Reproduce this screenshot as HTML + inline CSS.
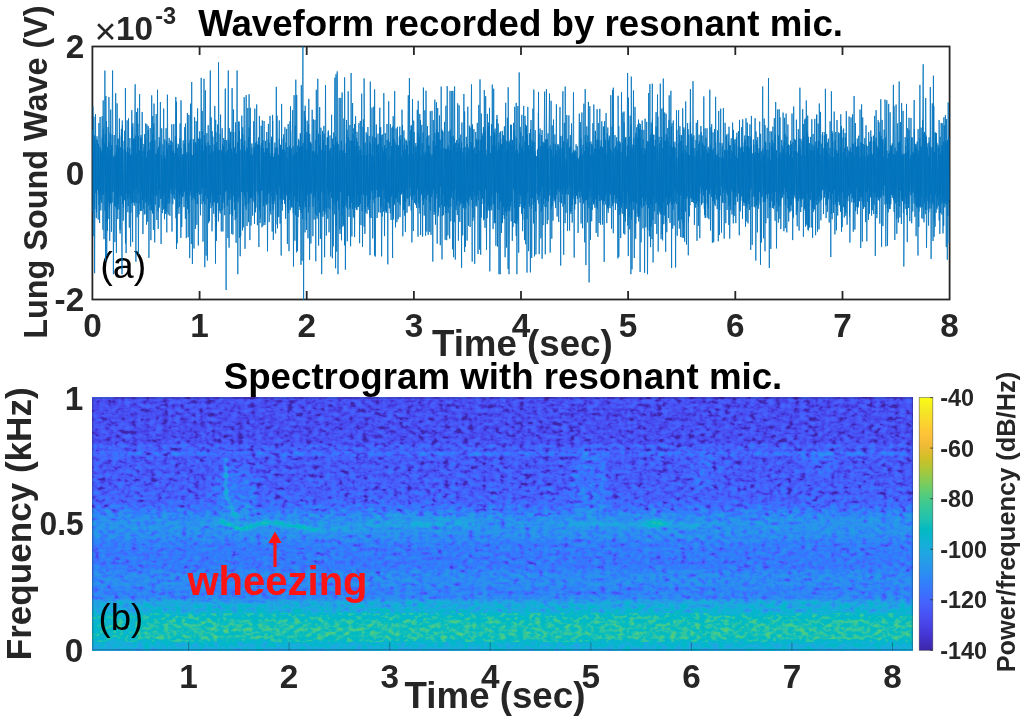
<!DOCTYPE html>
<html><head><meta charset="utf-8"><title>Lung sound waveform and spectrogram</title>
<style>html,body{margin:0;padding:0;background:#fff}svg{display:block}text{font-family:"Liberation Sans",Arial,Helvetica,sans-serif;font-weight:bold;fill:#262626}.k{fill:#000}.r{font-weight:normal;fill:#000}</style></head><body>
<svg width="1025" height="724" viewBox="0 0 1025 724">
<rect width="1025" height="724" fill="#fff"/>
<text class="r" x="100.3" y="278.3" font-size="37.5">(a)</text>
<g stroke="#262626" stroke-width="1.8" fill="none"><rect x="92.4" y="46.5" width="857.2" height="253.0"/><path d="M199.6,299.5v-8.6M199.6,46.5v8.6M306.7,299.5v-8.6M306.7,46.5v8.6M413.9,299.5v-8.6M413.9,46.5v8.6M521.0,299.5v-8.6M521.0,46.5v8.6M628.1,299.5v-8.6M628.1,46.5v8.6M735.3,299.5v-8.6M735.3,46.5v8.6M842.5,299.5v-8.6M842.5,46.5v8.6"/></g>
<path d="M92.8,129.9 93.2,212.2 93.4,149.0 93.8,203.2 94.4,135.6 94.8,209.2 95.2,143.5 95.6,192.9 96.2,139.2 96.6,212.0 97.0,136.3 97.5,190.0 98.3,154.6 98.8,193.8 98.6,143.9 99.1,205.2 100.1,147.2 100.6,196.0 100.4,148.4 100.9,200.4 101.4,151.3 101.8,203.0 102.3,137.5 102.8,194.9 103.3,128.7 103.7,194.4 104.6,143.1 105.0,210.6 105.4,134.1 105.9,192.2 106.4,121.3 106.9,222.3 107.0,154.3 107.4,230.9 107.6,146.9 108.1,202.3 108.9,142.1 109.4,207.0 110.0,132.8 110.4,203.7 110.4,150.1 110.8,202.3 111.7,145.0 112.2,202.5 112.1,134.7 112.6,191.9 113.5,157.3 113.9,191.6 114.2,155.7 114.7,205.5 115.4,154.8 115.8,207.1 116.3,151.9 116.7,198.1 116.7,145.2 117.1,210.0 117.8,139.4 118.3,203.9 118.6,147.9 119.0,196.6 119.6,134.1 120.0,229.7 120.3,147.2 120.7,195.3 121.4,128.9 121.8,196.2 122.3,120.5 122.7,204.0 122.9,149.5 123.4,207.9 124.1,140.9 124.6,200.3 125.3,149.1 125.7,206.4 125.7,151.0 126.1,194.0 127.1,152.3 127.6,199.2 127.7,147.3 128.2,206.1 128.5,152.6 128.9,194.4 129.8,148.2 130.3,199.0 130.4,155.0 130.9,212.7 131.3,154.0 131.8,203.4 132.2,126.5 132.6,201.5 133.4,138.7 133.8,190.3 133.8,142.1 134.3,205.7 134.8,138.3 135.2,202.4 135.7,135.6 136.2,188.8 136.5,153.4 136.9,202.9 137.9,123.8 138.3,193.8 138.5,135.9 139.0,214.4 139.5,150.7 140.0,203.6 140.6,137.5 141.0,210.0 141.2,138.7 141.7,192.2 142.0,156.8 142.5,199.8 143.1,150.8 143.5,208.6 143.9,143.9 144.4,214.5 144.7,134.1 145.2,202.8 145.6,139.2 146.0,214.1 146.6,157.7 147.0,201.2 147.7,151.6 148.1,195.9 148.2,130.0 148.7,205.5 149.7,149.7 150.1,210.3 150.1,142.3 150.5,204.0 151.0,150.0 151.5,210.3 151.8,140.2 152.3,193.0 152.9,134.1 153.3,213.8 153.8,123.5 154.2,195.4 154.9,140.3 155.3,204.6 155.9,153.5 156.4,195.7 156.4,154.4 156.8,194.7 157.7,149.4 158.1,211.4 158.2,150.8 158.7,195.0 159.2,137.2 159.6,189.8 159.9,142.1 160.4,199.0 161.3,154.7 161.8,197.3 161.9,158.3 162.3,204.6 163.0,144.4 163.4,209.4 163.5,151.6 163.9,195.1 164.8,155.9 165.2,193.3 165.4,159.3 165.8,208.1 166.4,140.8 166.9,212.1 167.5,149.1 167.9,203.7 168.1,143.3 168.5,197.5 169.2,145.1 169.6,203.3 170.3,145.0 170.7,188.8 170.7,140.5 171.2,193.8 171.8,124.4 172.3,190.6 172.6,151.6 173.0,197.9 173.4,150.1 173.9,194.6 174.6,153.4 175.0,189.3 175.4,136.3 175.9,218.2 176.5,139.4 176.9,198.3 177.5,148.2 177.9,208.3 178.3,156.3 178.7,193.6 179.0,145.5 179.4,206.7 180.0,138.2 180.4,194.8 181.0,148.0 181.4,203.9 182.0,156.9 182.4,196.8 182.8,154.0 183.2,196.3 183.6,154.9 184.0,190.9 184.2,143.8 184.7,191.9 185.6,139.8 186.1,201.7 186.1,153.9 186.6,196.3 187.1,151.8 187.6,209.1 188.3,153.3 188.8,213.4 188.8,143.0 189.2,195.9 190.1,140.1 190.6,191.2 190.6,138.6 191.1,195.3 191.4,153.7 191.9,200.3 192.6,155.1 193.0,197.9 193.7,142.1 194.1,195.8 194.3,153.7 194.8,199.3 195.5,142.3 195.9,204.1 196.1,143.9 196.6,193.0 197.3,146.5 197.7,204.1 197.7,137.5 198.2,191.6 198.7,138.9 199.2,194.4 199.5,138.8 200.0,194.6 200.8,138.6 201.3,193.7 201.6,145.1 202.0,188.2 202.6,131.5 203.0,187.9 203.2,150.9 203.7,201.3 204.4,135.2 204.9,204.4 205.5,143.2 205.9,196.3 205.8,147.6 206.3,189.5 206.9,133.1 207.3,198.8 208.1,142.0 208.6,223.2 209.0,145.5 209.5,221.2 209.9,145.1 210.4,202.9 210.4,153.3 210.9,195.6 211.5,150.3 212.0,193.0 212.1,131.1 212.6,205.6 213.2,151.3 213.7,202.2 214.2,144.4 214.7,202.4 214.9,147.3 215.4,217.2 215.9,132.4 216.4,240.9 216.8,142.2 217.2,202.6 217.5,147.5 218.0,203.2 218.4,149.8 218.9,194.4 219.8,149.9 220.2,213.3 220.2,134.0 220.6,194.9 221.7,150.5 222.1,210.1 222.5,143.9 223.0,202.8 223.5,146.3 223.9,198.7 224.3,151.0 224.7,215.2 224.7,140.0 225.1,191.7 225.6,153.3 226.1,191.2 226.7,152.0 227.1,190.5 227.5,149.9 227.9,238.1 228.3,139.4 228.8,200.1 229.8,143.2 230.2,199.4 230.6,132.4 231.1,193.9 231.5,148.8 231.9,212.3 232.0,152.5 232.5,216.0 233.3,132.0 233.8,195.9 234.2,148.5 234.6,209.9 234.8,147.4 235.2,220.1 235.6,122.4 236.0,217.8 236.5,153.5 236.9,199.7 237.5,142.4 238.0,202.3 238.7,136.6 239.2,197.2 239.1,121.6 239.6,195.7 240.2,149.7 240.7,236.2 241.1,138.8 241.6,191.8 242.3,143.4 242.8,193.6 242.8,134.1 243.2,191.8 244.0,145.7 244.4,196.5 244.7,140.8 245.1,205.6 245.8,150.7 246.2,209.5 246.8,147.4 247.3,192.2 247.7,148.8 248.2,204.3 248.6,137.0 249.1,202.5 249.2,127.5 249.6,197.6 250.1,153.1 250.5,197.7 250.9,155.0 251.3,197.5 251.8,147.5 252.3,199.0 252.7,154.6 253.1,201.5 254.0,149.1 254.4,195.6 254.4,146.9 254.9,203.9 255.4,142.8 255.9,207.5 256.7,141.3 257.1,191.5 257.6,144.7 258.0,193.3 258.6,137.5 259.1,196.2 259.1,143.4 259.6,210.4 259.8,145.4 260.3,218.4 261.2,125.8 261.6,190.8 261.8,143.0 262.2,190.0 263.0,140.2 263.4,206.2 263.4,148.5 263.9,197.6 264.3,152.4 264.8,222.3 265.6,148.1 266.0,202.8 266.5,149.1 267.0,196.0 267.3,148.1 267.8,203.6 268.2,139.4 268.7,193.7 269.2,142.7 269.6,190.9 269.8,153.2 270.2,211.2 270.6,156.2 271.1,196.4 271.7,136.7 272.2,203.4 272.7,120.9 273.2,209.6 273.5,156.8 273.9,204.1 274.3,153.5 274.8,200.9 275.4,147.8 275.8,191.5 276.3,152.4 276.7,194.8 277.1,147.5 277.5,228.4 278.4,154.7 278.8,216.9 279.3,138.7 279.7,187.2 279.6,144.1 280.1,199.4 280.8,149.0 281.3,198.3 281.5,137.5 282.0,204.4 282.5,149.7 283.0,193.6 283.2,138.7 283.7,199.8 284.1,149.4 284.6,199.2 285.0,151.5 285.5,208.0 286.0,142.7 286.4,195.3 287.2,157.9 287.7,209.6 287.8,147.2 288.2,213.1 289.2,149.9 289.6,199.7 290.0,121.2 290.5,194.3 290.6,131.0 291.0,207.6 291.7,148.5 292.2,207.5 292.8,154.9 293.3,213.4 293.2,146.4 293.6,200.2 294.4,153.6 294.8,196.4 295.2,125.8 295.6,215.2 296.0,152.7 296.5,202.2 296.9,152.2 297.3,202.2 297.7,145.7 298.1,217.0 298.9,140.8 299.4,202.7 299.5,147.3 300.0,210.0 300.6,134.9 301.0,212.8 301.8,146.2 302.2,189.7 302.3,146.7 302.8,219.2 303.2,142.8 303.7,208.4 304.5,134.8 304.9,201.4 305.2,105.7 305.6,206.9 306.1,131.9 306.5,230.0 306.8,149.8 307.2,195.2 307.9,132.5 308.4,212.5 308.6,124.5 309.1,207.0 309.7,133.9 310.1,193.8 310.5,141.9 310.9,191.1 311.2,143.6 311.6,193.5 312.6,151.3 313.0,206.8 313.3,150.6 313.8,198.4 314.4,154.9 314.9,195.6 314.9,151.6 315.4,213.7 315.8,140.4 316.2,191.0 316.6,129.8 317.1,218.7 317.6,154.4 318.1,200.4 318.5,133.8 319.0,211.8 319.3,144.8 319.8,212.7 320.3,135.1 320.7,216.3 321.2,149.8 321.7,192.2 322.5,132.8 322.9,216.7 323.1,140.0 323.5,193.3 324.2,133.7 324.7,214.7 324.6,151.1 325.1,208.6 325.6,145.0 326.1,212.6 327.0,145.3 327.5,189.5 327.4,137.1 327.8,218.7 328.3,132.1 328.7,194.8 329.4,151.1 329.9,209.2 330.2,148.7 330.7,191.5 331.0,148.0 331.5,197.7 332.2,157.7 332.7,210.3 333.1,143.9 333.6,203.3 333.7,132.5 334.2,214.3 334.9,145.1 335.3,205.9 335.7,136.7 336.2,225.9 336.9,142.9 337.3,199.1 337.3,141.6 337.7,201.1 338.3,144.2 338.7,209.6 339.4,153.5 339.8,229.2 339.9,150.2 340.4,191.8 341.4,140.7 341.8,215.7 342.3,150.5 342.8,207.7 342.8,151.7 343.3,225.4 344.0,149.5 344.5,206.0 344.6,144.2 345.0,205.4 345.9,153.0 346.4,202.1 346.4,142.9 346.8,207.5 347.1,129.7 347.6,209.8 348.1,137.1 348.5,196.0 349.2,147.0 349.7,208.7 349.9,140.2 350.3,207.1 351.3,141.3 351.8,203.0 352.0,140.6 352.5,209.1 352.9,133.7 353.3,197.7 353.8,128.3 354.3,218.4 354.6,124.0 355.0,208.0 355.8,146.7 356.2,205.4 356.6,138.0 357.0,210.1 357.3,141.7 357.8,195.0 358.1,154.2 358.6,206.9 358.9,145.9 359.4,205.0 359.9,150.4 360.4,203.7 360.9,149.3 361.3,195.0 361.6,155.1 362.0,210.9 363.0,126.8 363.5,194.9 363.5,140.5 363.9,191.0 364.6,155.1 365.0,208.9 365.2,142.7 365.6,212.4 366.4,155.1 366.8,195.7 367.3,134.5 367.8,207.1 367.9,127.0 368.3,209.8 369.4,153.4 369.8,217.3 369.7,141.8 370.2,199.4 370.7,144.3 371.2,191.0 371.9,155.0 372.4,192.8 372.6,136.5 373.0,199.7 373.8,156.5 374.2,203.1 374.3,141.9 374.7,189.0 375.2,137.8 375.7,197.9 376.4,137.4 376.8,189.9 377.4,145.1 377.8,197.1 378.3,144.0 378.8,196.9 378.8,153.8 379.3,196.7 379.9,127.8 380.3,212.6 380.7,127.2 381.2,207.4 381.8,135.0 382.2,216.4 382.4,147.5 382.8,190.5 383.7,151.5 384.1,187.2 384.5,145.0 384.9,198.3 385.1,148.0 385.5,210.4 386.0,148.7 386.5,211.8 387.0,124.0 387.4,201.5 388.2,139.3 388.7,202.7 388.8,159.5 389.3,208.3 389.8,142.0 390.3,213.3 390.9,156.6 391.4,196.8 391.5,146.0 391.9,193.6 392.7,139.1 393.2,214.9 393.2,116.2 393.7,204.3 394.0,138.8 394.4,204.6 394.9,141.8 395.4,199.0 396.2,144.6 396.6,197.8 396.9,144.7 397.3,202.1 398.1,146.8 398.5,192.1 398.8,145.1 399.2,202.8 399.8,126.6 400.2,205.2 400.5,139.7 400.9,194.7 401.5,156.8 402.0,193.0 402.5,125.2 402.9,192.1 403.2,150.4 403.6,210.1 404.2,144.7 404.6,209.1 405.3,149.6 405.7,201.7 406.2,141.0 406.7,189.1 406.8,141.8 407.2,198.4 407.5,145.2 407.9,198.4 408.9,154.5 409.3,205.5 409.5,140.4 410.0,187.9 410.8,130.4 411.2,210.5 411.5,125.5 412.0,200.1 412.2,153.4 412.6,197.7 413.4,139.6 413.8,194.6 414.1,132.1 414.6,194.6 415.1,146.4 415.6,204.6 416.1,152.1 416.6,207.9 416.8,146.3 417.3,189.0 418.0,133.3 418.4,200.8 418.5,141.6 419.0,207.9 419.4,137.6 419.9,213.6 420.5,120.0 420.9,195.1 421.2,156.1 421.7,193.9 422.3,143.0 422.8,200.4 423.1,132.6 423.5,204.8 424.1,153.3 424.6,198.2 425.1,157.4 425.5,188.9 425.8,151.5 426.3,199.9 426.9,137.8 427.4,195.1 427.8,135.7 428.2,192.6 428.7,145.1 429.2,195.7 429.1,146.5 429.5,201.7 430.0,153.5 430.4,210.5 431.3,156.6 431.7,197.0 432.0,154.4 432.4,193.8 433.2,140.8 433.7,189.6 433.8,146.6 434.3,211.7 434.9,132.8 435.4,213.8 435.5,145.1 436.0,198.4 436.7,129.2 437.1,194.0 437.7,132.1 438.2,216.3 438.6,132.7 439.1,198.9 439.2,139.5 439.7,207.5 440.2,139.8 440.6,186.8 441.1,149.1 441.6,204.8 441.9,129.6 442.3,216.0 442.9,132.0 443.3,195.1 444.1,148.0 444.5,206.5 444.9,148.4 445.4,203.4 445.5,149.2 445.9,213.0 446.6,149.4 447.1,205.7 447.7,148.1 448.1,212.9 448.2,145.7 448.7,207.9 449.4,149.9 449.9,199.7 450.3,129.9 450.7,206.6 451.2,136.5 451.7,197.8 451.6,149.9 452.1,192.0 453.1,135.8 453.5,199.8 454.0,145.2 454.4,222.1 454.4,138.1 454.9,189.8 455.6,142.8 456.0,210.1 456.1,152.1 456.6,205.4 457.4,148.0 457.8,201.0 458.3,143.0 458.8,199.1 459.3,138.2 459.7,205.8 460.2,151.0 460.7,203.4 460.8,147.4 461.2,199.3 461.6,142.2 462.0,203.3 462.9,152.4 463.3,208.2 463.3,147.9 463.7,204.8 464.3,156.6 464.8,205.6 465.2,147.0 465.7,208.5 466.5,153.0 466.9,200.7 467.2,144.0 467.6,202.9 468.3,147.7 468.8,205.5 469.1,151.0 469.6,198.4 470.1,127.7 470.6,195.9 471.0,141.9 471.4,199.9 471.9,145.0 472.4,207.7 472.5,124.5 472.9,192.1 473.4,149.4 473.9,217.7 474.5,147.5 474.9,196.3 475.4,153.8 475.8,205.8 476.4,138.8 476.8,206.5 477.3,141.3 477.7,195.3 477.9,152.8 478.3,200.2 478.7,139.7 479.1,190.5 480.0,150.3 480.4,194.4 480.8,139.9 481.3,217.5 481.5,137.4 481.9,204.1 482.2,135.4 482.7,197.7 483.1,133.0 483.6,220.2 484.1,139.9 484.6,203.3 485.1,130.6 485.5,189.3 485.9,149.8 486.4,212.2 486.7,155.2 487.2,218.1 487.7,126.5 488.2,210.6 488.7,122.5 489.2,208.9 489.5,107.8 489.9,210.8 490.4,153.0 490.9,206.5 491.5,124.2 491.9,196.3 492.6,145.6 493.1,204.4 493.5,135.5 494.0,202.7 494.2,131.5 494.6,219.3 494.9,133.4 495.3,223.0 495.9,145.7 496.3,192.4 497.0,115.0 497.5,209.4 497.8,150.4 498.2,192.6 498.8,142.5 499.2,209.9 499.8,132.6 500.2,201.8 500.6,131.4 501.1,201.3 501.6,144.5 502.1,221.3 502.1,143.8 502.5,223.1 503.1,135.2 503.5,207.1 503.8,135.7 504.3,219.0 505.0,139.4 505.5,211.6 506.0,151.6 506.4,215.6 506.7,141.2 507.1,211.2 507.4,149.2 507.9,207.0 508.6,143.8 509.0,211.3 509.3,141.7 509.8,210.6 510.2,139.8 510.7,206.3 511.2,144.8 511.7,201.1 512.5,140.1 513.0,226.9 513.0,146.2 513.5,189.2 514.2,130.2 514.6,207.3 514.8,135.7 515.3,193.7 515.8,150.6 516.2,235.9 516.5,138.2 516.9,223.8 517.4,149.9 517.9,219.8 518.7,153.2 519.1,193.7 519.4,143.3 519.8,206.9 520.2,126.9 520.6,195.7 521.5,148.0 522.0,199.6 522.4,145.8 522.8,219.7 522.9,136.1 523.3,207.8 523.9,151.2 524.3,208.5 524.9,141.7 525.3,205.0 525.5,124.3 526.0,197.6 526.6,125.6 527.0,219.0 527.4,134.7 527.8,192.4 528.6,145.3 529.1,203.9 529.1,150.4 529.5,206.6 530.5,128.9 531.0,198.4 531.0,120.1 531.4,209.0 531.9,146.1 532.4,197.8 532.7,141.1 533.1,204.7 534.1,142.1 534.5,203.0 534.9,151.1 535.4,211.5 535.4,154.1 535.8,210.8 536.6,156.2 537.0,193.6 537.4,150.4 537.8,200.2 538.4,113.0 538.8,203.7 539.1,133.7 539.6,195.5 540.4,146.4 540.9,191.7 540.9,156.0 541.3,211.6 542.1,130.1 542.6,187.0 542.7,145.1 543.1,225.1 543.8,142.5 544.3,198.5 544.6,143.0 545.0,206.9 545.6,139.5 546.0,207.1 546.5,139.7 546.9,200.6 547.4,138.9 547.9,198.1 548.0,133.4 548.4,201.5 548.9,147.2 549.3,195.4 550.3,145.0 550.8,189.2 550.8,150.8 551.2,208.6 551.7,149.5 552.2,206.0 552.6,157.2 553.0,197.0 553.7,143.3 554.2,201.1 554.8,155.2 555.3,203.3 555.4,144.5 555.8,198.8 556.2,150.4 556.7,194.9 557.1,153.5 557.6,189.9 557.8,145.1 558.3,188.9 558.8,146.3 559.2,192.1 559.7,150.1 560.1,201.9 560.7,136.3 561.2,190.4 562.0,148.3 562.5,194.2 562.4,135.6 562.9,206.7 563.6,141.2 564.0,188.1 564.3,150.3 564.7,204.0 565.1,158.8 565.5,194.5 566.5,160.9 566.9,194.2 566.9,142.6 567.4,189.4 567.8,138.9 568.3,194.6 569.1,148.7 569.6,186.5 569.7,147.2 570.1,211.9 570.6,145.9 571.0,214.0 571.9,153.7 572.4,204.8 572.4,152.6 572.8,195.9 573.7,149.9 574.1,198.8 574.2,151.1 574.7,209.6 575.3,150.4 575.7,204.2 576.0,152.3 576.5,195.6 576.9,157.8 577.4,198.9 578.2,158.4 578.7,192.0 579.1,159.8 579.6,197.5 579.5,156.2 580.0,189.4 580.8,138.5 581.2,191.9 581.3,148.3 581.8,196.8 582.3,154.5 582.8,199.7 583.1,144.8 583.5,203.4 584.3,151.1 584.8,201.3 585.3,134.9 585.7,199.9 586.2,142.0 586.7,199.9 587.1,146.8 587.6,205.0 587.8,135.4 588.2,197.9 588.6,146.9 589.0,208.3 589.3,142.0 589.8,190.3 590.5,155.4 591.0,196.9 591.7,144.0 592.2,210.0 592.3,145.2 592.8,202.0 593.3,153.7 593.8,204.2 594.4,148.6 594.9,207.8 595.3,131.5 595.7,199.1 596.1,140.0 596.6,207.2 596.9,149.2 597.4,208.7 597.6,138.9 598.0,195.1 598.8,140.3 599.3,201.0 599.5,148.9 600.0,196.1 600.6,146.1 601.0,200.5 601.2,140.3 601.6,199.9 602.5,147.1 603.0,204.7 603.0,148.5 603.4,202.0 604.2,127.3 604.7,201.0 605.2,139.6 605.7,204.5 605.6,140.3 606.1,193.6 607.0,153.6 607.4,207.7 607.8,127.5 608.2,208.8 608.6,140.8 609.1,205.3 609.3,135.7 609.8,195.2 610.3,148.6 610.7,193.7 611.1,151.2 611.6,200.5 612.1,126.7 612.6,205.7 613.2,152.3 613.6,199.0 614.1,148.0 614.6,194.8 615.0,135.1 615.4,209.9 615.7,153.6 616.1,199.0 616.6,137.3 617.0,198.2 617.7,149.6 618.2,206.1 618.8,126.3 619.2,215.0 619.2,141.2 619.6,201.1 620.2,142.3 620.7,212.5 621.0,152.2 621.5,207.5 622.4,150.2 622.8,203.1 622.7,142.8 623.1,191.4 624.1,122.2 624.6,216.4 624.9,139.4 625.4,221.7 625.6,137.7 626.0,203.9 626.7,156.7 627.1,192.7 627.4,145.3 627.8,225.6 628.5,138.0 628.9,201.8 629.2,136.7 629.7,229.3 630.4,147.3 630.9,204.3 631.0,124.8 631.5,219.6 632.2,148.5 632.6,201.7 632.9,144.6 633.4,209.7 633.7,138.4 634.1,201.9 635.0,145.5 635.4,213.3 635.4,137.2 635.8,223.5 636.7,127.3 637.2,216.7 637.7,137.6 638.1,213.0 638.5,119.6 638.9,217.7 639.2,123.2 639.7,216.2 640.2,138.0 640.6,205.2 641.3,148.3 641.7,208.1 641.8,129.8 642.3,197.8 643.0,139.5 643.4,206.6 643.9,154.3 644.3,205.6 644.8,148.1 645.3,201.2 645.4,150.5 645.9,197.1 646.5,143.8 646.9,204.6 647.0,141.5 647.5,229.8 647.9,141.2 648.4,208.1 648.8,141.7 649.3,230.9 650.1,137.9 650.6,204.3 650.8,134.7 651.2,226.3 652.0,130.3 652.5,206.2 652.4,119.5 652.9,220.0 653.4,134.8 653.8,197.5 654.7,145.9 655.1,224.0 655.3,139.9 655.8,203.2 656.1,126.6 656.6,202.0 657.4,147.3 657.8,214.3 657.9,116.6 658.4,204.7 659.3,151.6 659.7,212.0 659.7,143.2 660.2,214.4 661.0,140.8 661.5,214.2 661.7,137.0 662.1,234.3 662.9,148.3 663.3,201.9 663.4,107.6 663.8,224.2 664.7,112.5 665.1,216.0 665.2,140.6 665.6,222.4 666.2,134.2 666.6,197.9 667.2,137.6 667.6,204.9 668.0,141.4 668.5,206.4 669.0,119.9 669.5,203.3 669.9,155.4 670.4,197.3 670.5,145.4 671.0,202.0 671.3,126.2 671.7,204.5 672.6,147.3 673.1,209.8 673.5,142.5 673.9,203.9 674.3,146.5 674.8,189.6 675.2,148.0 675.6,202.0 676.4,157.1 676.8,204.0 676.9,130.0 677.3,193.5 678.2,157.9 678.6,220.7 678.6,142.9 679.0,219.3 679.8,135.1 680.3,195.6 680.9,140.9 681.3,190.9 681.3,140.9 681.7,219.3 682.6,153.9 683.0,222.9 683.2,145.3 683.6,226.8 683.9,129.6 684.4,199.2 685.1,150.0 685.5,211.5 686.1,145.6 686.6,199.0 686.8,152.7 687.2,196.6 688.1,129.3 688.5,222.1 688.4,154.3 688.8,191.5 689.5,155.3 689.9,205.4 690.4,122.6 690.9,197.9 691.3,146.7 691.8,202.0 692.2,136.8 692.6,202.0 692.9,148.3 693.4,200.3 693.9,135.4 694.4,224.9 694.9,155.9 695.3,199.6 696.0,139.9 696.5,203.5 696.7,151.3 697.2,201.1 697.8,151.0 698.3,206.7 698.6,144.2 699.0,201.5 699.4,141.3 699.9,194.0 700.2,156.9 700.6,186.5 701.1,132.0 701.6,205.1 702.5,142.7 702.9,190.3 703.1,144.7 703.5,195.4 703.9,150.1 704.3,208.9 704.7,145.8 705.2,218.1 706.0,137.8 706.5,189.7 706.8,150.0 707.3,203.5 707.7,153.0 708.2,208.3 708.7,152.6 709.2,194.3 709.2,148.6 709.7,193.3 710.5,144.8 710.9,189.2 710.9,127.3 711.4,197.0 712.2,149.7 712.7,200.9 712.9,151.5 713.4,200.7 714.0,148.0 714.5,203.7 714.6,158.9 715.1,194.3 715.6,142.1 716.1,187.8 716.7,155.0 717.2,209.1 717.8,153.0 718.2,199.4 718.3,156.9 718.8,200.3 719.1,157.5 719.6,209.8 720.0,142.6 720.4,195.5 721.2,157.3 721.7,186.3 722.3,146.5 722.7,202.5 722.6,151.9 723.1,193.2 723.7,158.2 724.2,189.4 724.5,150.1 725.0,202.9 725.9,149.8 726.4,189.0 726.3,134.6 726.7,193.0 727.1,149.9 727.6,195.1 728.5,141.8 728.9,205.7 729.5,145.5 730.0,203.2 730.3,145.2 730.7,209.9 730.8,158.7 731.2,189.9 731.9,150.5 732.3,192.0 732.8,152.3 733.3,210.6 734.0,139.6 734.4,197.4 734.8,143.7 735.2,204.9 735.2,155.8 735.7,192.7 736.4,137.5 736.8,196.5 737.5,158.0 738.0,188.3 738.3,146.5 738.7,193.5 739.2,145.7 739.7,209.6 740.3,148.3 740.8,200.7 741.2,146.8 741.7,196.5 742.0,147.4 742.5,189.4 742.8,146.4 743.2,200.8 743.5,151.9 744.0,205.9 744.3,142.8 744.8,203.0 745.2,139.3 745.7,204.0 746.4,146.5 746.9,207.2 747.4,135.5 747.9,201.5 748.4,146.8 748.8,204.0 749.3,147.7 749.7,197.9 749.8,153.5 750.2,189.9 750.7,136.6 751.2,188.1 751.5,145.6 752.0,207.1 752.7,153.4 753.1,196.8 753.8,144.3 754.3,194.8 754.6,154.6 755.0,207.4 755.3,152.1 755.7,197.6 756.0,131.4 756.5,205.7 757.4,145.3 757.8,201.1 758.3,153.1 758.7,202.1 759.1,148.3 759.6,191.9 759.7,151.2 760.2,204.6 760.7,159.7 761.1,197.4 761.7,151.2 762.1,196.5 762.8,148.7 763.3,202.0 763.3,154.8 763.7,189.0 764.3,146.3 764.7,201.9 765.0,125.1 765.4,202.0 765.8,142.6 766.3,194.4 766.9,149.7 767.3,198.5 768.1,157.7 768.6,193.8 769.0,149.8 769.4,207.5 769.7,142.6 770.2,207.9 770.6,159.8 771.0,193.9 771.4,145.1 771.8,201.2 772.6,140.4 773.1,191.4 773.3,148.1 773.8,205.6 774.0,143.3 774.4,205.6 775.2,135.0 775.7,191.6 776.4,150.9 776.8,202.6 776.7,150.3 777.1,211.5 778.2,157.8 778.6,207.0 778.5,135.6 778.9,194.2 779.5,155.4 780.0,205.7 780.8,152.4 781.3,198.7 781.7,139.9 782.2,192.7 782.1,145.6 782.6,197.6 783.4,148.8 783.8,194.6 784.2,141.6 784.7,188.1 785.0,133.8 785.4,204.9 786.1,153.3 786.6,191.7 786.9,136.5 787.4,199.0 787.6,145.7 788.0,208.1 788.6,144.5 789.1,211.0 789.7,155.0 790.1,204.2 790.5,147.1 791.0,210.8 791.4,144.1 791.8,194.4 792.4,157.8 792.9,199.0 792.9,142.3 793.4,217.6 793.8,150.6 794.2,191.8 794.7,138.9 795.1,198.2 795.9,151.2 796.4,201.6 796.7,151.1 797.2,210.8 797.9,152.8 798.3,201.0 798.9,145.3 799.3,190.7 799.2,138.3 799.7,198.5 800.3,148.4 800.7,201.3 801.2,155.0 801.7,198.1 802.2,141.0 802.6,199.3 803.3,124.0 803.8,197.8 804.0,136.9 804.5,208.6 804.7,155.7 805.2,210.7 805.9,118.4 806.3,224.4 806.6,129.1 807.0,193.1 807.6,132.8 808.0,229.9 808.2,154.6 808.7,206.5 809.4,143.1 809.8,198.4 810.2,149.9 810.7,200.2 811.3,150.3 811.7,191.0 812.1,144.5 812.6,207.5 813.0,151.0 813.5,211.7 814.0,145.3 814.5,209.4 814.5,147.1 815.0,199.9 815.8,141.7 816.3,204.8 816.6,115.5 817.1,200.7 817.6,148.3 818.0,195.7 818.3,140.7 818.8,203.7 819.0,141.1 819.5,196.1 820.4,154.8 820.9,220.3 821.3,143.6 821.7,198.4 822.3,134.7 822.7,190.3 822.8,149.6 823.3,189.4 824.0,147.8 824.5,197.5 824.9,132.0 825.4,187.1 825.6,143.9 826.0,205.2 826.7,149.6 827.2,203.3 827.6,142.4 828.0,199.6 828.0,159.3 828.5,198.2 828.9,153.7 829.4,191.8 830.0,147.9 830.5,199.2 831.0,156.7 831.4,213.6 832.0,131.0 832.4,194.0 832.8,141.7 833.3,204.4 833.9,156.9 834.4,189.9 834.8,148.6 835.2,204.4 835.2,140.3 835.7,201.9 836.3,150.0 836.7,206.9 837.5,153.1 838.0,201.5 838.3,150.8 838.8,195.2 838.8,133.9 839.2,202.1 840.1,133.0 840.5,211.7 840.6,147.4 841.1,195.2 841.8,129.9 842.2,192.3 843.0,137.6 843.4,207.1 843.3,152.1 843.8,198.0 844.7,148.3 845.1,209.4 845.4,137.6 845.8,215.8 846.6,156.7 847.0,199.1 847.4,146.7 847.9,201.2 847.8,156.8 848.3,189.4 849.1,151.4 849.5,216.9 850.1,151.5 850.6,194.0 850.6,147.8 851.1,192.4 851.8,152.4 852.3,198.4 852.4,143.5 852.9,196.8 853.3,143.8 853.7,202.4 854.3,156.5 854.7,202.3 855.2,142.2 855.6,211.2 856.5,146.8 856.9,188.8 856.9,153.7 857.4,214.2 857.9,145.5 858.4,206.3 858.9,146.3 859.3,192.8 859.9,157.2 860.4,197.8 861.0,142.1 861.4,196.8 861.7,143.1 862.1,201.5 862.7,156.6 863.2,205.5 863.2,144.0 863.6,191.4 864.4,145.3 864.8,207.1 865.0,156.4 865.4,201.6 866.3,144.9 866.8,192.5 867.0,160.8 867.5,201.8 867.7,154.8 868.1,187.8 869.0,155.3 869.5,205.7 869.7,141.8 870.2,197.2 870.6,141.4 871.0,197.1 871.2,153.0 871.7,197.9 872.6,154.5 873.1,192.6 873.3,141.3 873.7,214.0 874.4,140.5 874.9,197.3 874.8,141.6 875.3,192.5 876.1,137.6 876.6,214.0 876.8,145.8 877.3,197.6 877.8,147.4 878.3,199.9 878.8,149.8 879.2,200.8 879.8,131.8 880.2,198.1 880.8,139.1 881.2,196.4 881.2,135.9 881.6,194.8 882.5,141.7 883.0,190.3 883.0,139.1 883.4,195.6 883.8,156.9 884.2,185.6 884.9,144.6 885.3,195.4 885.8,137.4 886.2,204.0 887.0,150.8 887.4,208.1 887.7,158.5 888.2,212.3 888.5,153.5 889.0,203.8 889.7,150.6 890.1,209.1 890.7,145.1 891.1,194.7 891.4,145.8 891.8,194.5 892.3,143.4 892.7,195.9 893.3,154.0 893.8,200.6 893.9,154.0 894.3,198.7 895.2,147.8 895.7,203.5 895.6,155.4 896.0,189.1 896.4,151.0 896.9,218.5 897.8,151.6 898.3,201.9 898.3,142.6 898.7,196.6 899.3,141.7 899.7,206.3 900.3,141.2 900.8,191.0 901.0,156.5 901.4,198.7 902.1,153.6 902.5,201.2 902.9,156.0 903.4,213.0 903.6,154.0 904.1,203.6 904.9,153.6 905.3,196.8 905.7,145.9 906.1,203.8 906.4,152.6 906.8,215.2 907.7,138.2 908.1,197.3 908.3,150.2 908.8,203.5 909.0,130.1 909.5,191.8 910.4,157.8 910.9,195.2 911.0,155.0 911.5,194.7 911.8,137.6 912.2,190.8 912.8,152.2 913.2,192.9 913.7,153.4 914.1,203.4 914.4,129.3 914.9,198.1 915.5,147.8 916.0,205.5 916.3,144.6 916.8,207.4 917.2,148.8 917.7,207.4 918.4,154.7 918.9,211.6 919.0,150.7 919.4,206.7 919.8,138.0 920.3,207.5 920.8,146.6 921.3,196.8 921.8,146.5 922.2,207.3 922.6,120.1 923.1,218.7 923.8,133.3 924.2,203.2 924.9,140.9 925.3,210.0 925.7,134.7 926.2,197.6 926.4,136.6 926.8,209.9 927.5,147.6 927.9,201.1 928.4,155.6 928.8,212.4 929.2,142.2 929.7,203.2 930.2,146.6 930.7,193.9 930.8,149.2 931.3,208.2 932.0,147.1 932.4,202.3 932.7,146.6 933.2,204.6 933.8,106.1 934.2,219.5 934.7,151.9 935.1,226.7 935.1,132.2 935.6,194.9 936.5,133.0 937.0,207.5 936.9,142.9 937.4,198.9 938.1,144.7 938.5,205.6 939.1,148.7 939.5,195.2 940.1,136.8 940.6,212.7 940.5,154.3 941.0,204.0 941.8,145.4 942.3,202.5 942.5,150.8 943.0,196.6 943.2,141.7 943.7,225.8 944.3,125.5 944.8,207.4 945.4,115.2 945.9,204.5 946.0,145.5 946.4,201.7 947.3,140.2 947.8,215.9 947.7,140.5 948.2,202.9 948.8,137.2 949.2,199.3" fill="none" stroke="#0072BD" stroke-width="0.8" stroke-linejoin="bevel"/>
<path d="M93.2,106.6 93.9,236.2 93.9,116.6 94.6,273.2 95.5,114.0 96.3,218.1 97.4,140.1 98.2,219.6 98.9,123.0 99.6,223.0 100.1,117.0 100.8,210.4 102.2,116.2 102.9,229.8 103.2,100.4 104.0,239.2 104.9,70.6 105.6,261.0 105.9,96.0 106.7,255.9 108.1,127.0 108.9,219.0 108.9,97.1 109.7,240.8 110.7,109.6 111.4,231.8 112.6,70.5 113.4,274.2 114.2,135.0 114.9,242.1 115.7,93.2 116.4,252.8 117.1,103.4 117.8,219.0 118.1,138.5 118.8,209.3 119.4,118.4 120.1,233.5 121.3,136.5 122.0,274.2 122.4,125.3 123.2,220.7 124.7,130.7 125.5,243.5 125.4,88.0 126.1,253.0 127.1,120.3 127.9,212.2 128.5,118.4 129.3,227.6 129.9,138.0 130.6,246.5 131.8,110.2 132.6,242.1 132.9,123.2 133.7,202.8 135.2,84.3 135.9,261.7 136.5,112.1 137.2,217.3 137.7,108.2 138.4,254.3 139.6,94.2 140.4,211.1 141.1,135.0 141.8,211.0 142.2,112.0 142.9,234.0 144.1,147.7 144.9,198.3 145.7,123.4 146.5,224.6 146.9,124.3 147.7,221.7 148.2,126.0 148.9,257.9 150.2,128.0 150.9,240.2 151.7,95.4 152.5,213.3 152.7,116.1 153.4,229.9 154.0,103.6 154.7,242.4 156.2,114.2 156.9,220.0 157.5,89.8 158.2,228.8 158.6,146.8 159.3,207.5 160.4,102.1 161.1,243.9 161.7,128.4 162.4,213.2 163.7,108.6 164.5,219.3 164.7,139.5 165.4,214.0 166.1,128.2 166.8,232.4 167.4,94.7 168.2,214.6 169.2,137.9 169.9,215.9 171.3,144.9 172.0,231.6 172.1,141.8 172.8,204.2 173.8,124.1 174.6,199.3 175.8,97.0 176.5,249.0 176.4,101.7 177.2,243.3 178.2,143.8 178.9,213.8 180.1,123.4 180.9,237.9 181.0,100.3 181.7,227.0 183.2,140.4 184.0,207.1 184.7,127.2 185.4,218.8 185.5,123.5 186.3,238.1 187.4,113.1 188.2,237.2 188.9,114.9 189.7,258.1 190.5,103.7 191.3,243.9 191.7,82.0 192.4,264.0 193.3,139.1 194.0,248.5 194.6,117.2 195.4,228.8 196.2,121.2 196.9,224.8 197.6,108.4 198.3,245.5 199.7,131.4 200.5,215.3 201.2,77.8 202.0,204.1 202.2,110.9 203.0,241.6 204.0,78.8 204.8,267.2 205.4,90.3 206.1,255.7 206.7,145.6 207.4,260.5 208.2,125.2 209.0,220.8 210.3,70.5 211.0,208.0 211.2,117.4 212.0,231.3 212.9,136.7 213.7,213.7 214.8,105.9 215.5,263.7 215.7,119.8 216.4,226.2 217.7,124.5 218.4,221.5 218.5,62.3 219.3,210.8 220.6,114.6 221.3,231.4 222.2,128.3 222.9,231.5 223.7,138.0 224.4,208.0 225.3,88.6 226.1,290.0 226.6,140.2 227.3,205.8 228.3,70.5 229.1,247.6 229.2,128.0 229.9,214.4 230.9,131.5 231.7,233.8 232.1,88.1 232.9,234.6 233.5,109.5 234.3,201.8 235.3,132.0 236.1,242.8 237.1,70.5 237.8,274.2 238.6,121.7 239.4,237.8 239.5,131.0 240.2,256.2 241.8,115.6 242.5,230.4 242.7,127.3 243.4,227.3 244.2,97.2 245.0,248.8 246.2,95.2 247.0,226.0 247.8,108.0 248.5,222.1 249.1,94.3 249.9,240.1 250.3,107.8 251.0,225.5 251.9,143.5 252.6,215.6 253.7,121.3 254.5,223.8 254.8,108.6 255.5,212.3 256.7,104.4 257.4,225.2 258.2,144.6 258.9,247.0 259.4,115.9 260.1,222.9 261.3,148.2 262.0,227.3 262.3,120.4 263.1,225.6 264.1,121.0 264.9,225.0 265.5,140.9 266.3,205.1 266.8,132.0 267.5,251.4 268.4,123.9 269.2,222.1 270.0,115.9 270.8,214.5 271.5,139.6 272.2,231.5 272.6,114.9 273.3,239.9 274.9,142.6 275.6,233.4 276.3,86.9 277.1,224.4 277.0,115.7 277.8,217.2 279.3,120.4 280.1,223.6 280.5,144.9 281.2,255.5 281.6,103.9 282.3,210.6 283.7,134.4 284.5,203.9 284.9,127.2 285.6,218.8 286.6,128.9 287.4,243.9 288.2,124.0 289.0,251.1 289.5,145.8 290.2,210.2 290.5,106.4 291.3,206.2 292.7,110.0 293.5,266.5 294.1,95.2 294.9,240.7 295.8,79.7 296.6,252.4 296.7,94.9 297.5,251.1 298.7,138.9 299.5,206.6 300.3,133.1 301.0,264.8 301.3,85.2 302.1,260.8 302.9,46.5 303.6,299.5 304.3,111.0 305.0,232.4 305.5,117.3 306.3,220.1 307.2,120.7 308.0,238.3 308.8,98.9 309.6,259.8 310.1,142.1 310.9,243.5 312.2,109.8 312.9,236.2 313.4,119.3 314.1,219.6 315.0,119.9 315.8,261.3 316.3,89.8 317.0,215.8 317.8,78.8 318.6,245.7 319.7,107.2 320.4,238.8 320.9,127.7 321.7,274.2 322.5,130.9 323.3,211.3 323.9,125.9 324.6,257.2 325.5,85.1 326.3,235.6 327.3,138.1 328.1,207.9 328.3,130.4 329.0,232.3 330.0,135.5 330.7,256.5 331.6,114.8 332.4,258.3 332.6,138.6 333.3,246.3 334.9,77.7 335.6,268.3 336.0,74.3 336.7,251.6 337.2,71.4 338.0,274.2 339.2,97.9 340.0,233.8 340.8,97.8 341.5,240.3 342.1,92.5 342.8,226.7 343.9,118.4 344.6,245.3 344.6,77.4 345.4,269.7 346.5,120.0 347.3,241.3 348.2,91.3 349.0,216.9 349.9,125.0 350.6,246.3 351.1,73.0 351.9,236.4 352.6,103.0 353.3,217.2 353.9,141.1 354.6,237.1 355.6,116.2 356.3,209.4 357.0,131.8 357.8,206.8 358.9,123.2 359.6,243.2 360.3,120.9 361.0,225.1 361.7,93.7 362.5,246.9 363.4,119.4 364.1,226.6 364.1,78.4 364.9,233.9 366.2,132.3 367.0,213.7 367.5,144.2 368.2,204.2 369.2,135.9 370.0,255.1 370.3,81.6 371.1,218.0 372.0,107.6 372.7,238.4 373.8,106.6 374.5,255.4 374.6,89.4 375.3,256.6 376.3,124.5 377.1,218.0 378.0,133.7 378.7,212.3 379.8,107.7 380.6,205.3 380.8,138.0 381.6,256.4 382.8,134.3 383.6,211.7 383.8,93.1 384.5,236.1 385.3,133.1 386.1,212.9 387.1,140.0 387.8,264.3 388.7,101.3 389.4,203.3 390.4,124.2 391.1,219.9 391.9,127.7 392.6,258.0 392.8,126.5 393.5,219.5 394.7,91.1 395.5,227.3 396.1,128.5 396.9,222.2 397.4,126.8 398.2,219.2 399.3,136.5 400.0,217.1 400.9,135.2 401.6,194.2 402.0,109.7 402.8,236.3 403.9,130.4 404.7,215.6 404.7,138.4 405.4,231.9 406.2,139.9 407.0,212.7 408.3,95.3 409.0,206.4 409.4,78.1 410.1,196.3 411.1,125.6 411.9,242.4 412.5,99.1 413.3,231.0 413.7,120.6 414.5,203.0 415.8,143.1 416.5,202.9 417.3,109.8 418.0,236.6 418.2,100.8 419.0,203.6 419.8,113.9 420.6,235.0 421.8,124.9 422.6,236.6 423.4,87.6 424.2,215.6 424.9,110.3 425.6,235.7 426.0,90.7 426.8,231.5 427.4,126.0 428.2,234.8 429.0,135.4 429.8,231.9 430.3,111.2 431.0,234.8 432.0,110.8 432.8,261.6 433.3,120.1 434.1,214.8 434.8,99.7 435.5,224.7 436.4,102.3 437.2,243.7 437.7,108.0 438.4,212.2 439.5,115.5 440.3,245.2 441.2,86.6 442.0,259.4 442.7,130.9 443.4,215.1 444.5,121.9 445.2,239.8 445.9,105.8 446.7,240.2 447.2,86.1 447.9,235.4 448.9,131.4 449.7,238.6 450.0,90.8 450.8,221.3 451.8,91.1 452.6,249.3 452.9,90.8 453.6,257.2 454.6,86.4 455.3,259.6 456.5,140.2 457.3,215.0 457.7,103.3 458.4,240.7 459.1,105.4 459.8,221.8 460.8,134.6 461.6,267.8 461.9,122.5 462.7,235.4 463.9,94.0 464.6,252.0 464.6,111.4 465.4,246.8 466.3,136.8 467.1,240.5 467.8,106.7 468.5,225.7 469.4,125.7 470.1,227.0 471.5,84.4 472.2,261.6 472.2,126.3 472.9,220.8 473.9,129.1 474.7,263.8 475.7,132.0 476.4,202.1 477.3,122.9 478.0,254.0 478.8,104.9 479.6,249.6 480.0,79.4 480.7,254.7 481.3,113.6 482.1,198.8 483.4,127.1 484.2,218.9 484.3,90.1 485.0,227.8 485.7,96.2 486.5,249.8 487.4,113.9 488.1,205.2 489.1,126.0 489.8,271.4 491.0,135.8 491.7,210.2 492.3,84.6 493.1,228.9 493.7,88.7 494.4,223.2 495.1,128.6 495.9,245.8 496.8,119.1 497.5,246.6 498.2,123.5 499.0,274.2 499.5,147.8 500.2,274.2 500.7,138.8 501.5,232.9 502.3,130.9 503.1,215.1 504.4,126.3 505.1,257.2 505.7,102.8 506.5,247.5 507.4,117.8 508.1,269.0 508.2,87.3 509.0,274.2 510.5,124.7 511.2,221.3 511.5,124.8 512.3,240.8 513.5,122.9 514.3,223.1 514.7,106.8 515.5,223.5 516.2,102.9 516.9,274.2 517.9,106.1 518.7,252.7 519.2,72.4 520.0,204.1 520.8,132.3 521.5,213.7 521.8,114.8 522.6,231.2 523.7,105.9 524.5,240.1 525.0,115.9 525.7,244.3 526.2,126.0 527.0,272.6 527.8,106.9 528.6,251.1 529.6,133.1 530.4,272.4 530.9,139.7 531.7,258.0 532.9,108.7 533.6,223.4 533.8,89.6 534.5,256.4 535.2,130.2 535.9,254.4 537.6,149.3 538.3,196.7 538.5,91.9 539.2,254.1 540.1,128.5 540.9,238.3 541.4,135.1 542.1,258.8 542.9,141.7 543.6,204.3 544.6,91.7 545.3,254.3 546.4,89.2 547.2,224.1 547.2,149.7 548.0,220.1 549.5,93.5 550.2,252.5 551.1,100.8 551.8,238.6 552.2,125.4 553.0,220.6 553.5,119.6 554.3,199.4 554.9,134.5 555.7,208.1 556.4,104.3 557.1,216.5 558.0,144.0 558.7,222.0 560.0,107.1 560.7,265.6 560.7,136.2 561.5,203.2 562.9,91.3 563.7,254.8 564.3,122.9 565.1,223.1 565.2,86.5 566.0,212.8 566.8,115.1 567.5,230.9 568.9,115.4 569.6,230.6 570.3,135.1 571.1,210.9 571.5,123.4 572.2,222.6 573.5,92.3 574.2,257.5 574.4,153.8 575.2,204.0 576.1,144.3 576.9,194.9 577.3,146.2 578.1,232.9 579.3,113.6 580.1,202.7 580.3,122.1 581.1,223.5 581.9,112.5 582.6,228.3 583.9,103.7 584.7,242.3 585.2,89.1 585.9,265.1 586.8,126.4 587.6,222.4 588.4,101.9 589.1,282.4 589.8,106.2 590.5,239.8 590.9,141.6 591.7,221.3 592.9,123.2 593.6,204.3 593.8,104.5 594.6,203.0 595.5,130.8 596.2,232.9 597.1,109.2 597.9,236.8 598.3,123.0 599.1,223.0 599.8,108.9 600.6,224.7 601.8,121.4 602.6,224.6 603.4,126.4 604.2,261.9 604.6,121.2 605.3,196.1 606.1,113.1 606.8,223.1 607.4,133.3 608.2,212.7 609.2,137.9 610.0,208.1 610.8,95.2 611.5,228.8 612.6,90.1 613.3,233.2 613.3,87.7 614.0,202.9 615.6,146.2 616.3,203.5 617.1,141.5 617.9,258.4 618.1,95.8 618.8,256.9 619.9,144.0 620.7,238.1 621.5,92.2 622.3,213.8 622.8,112.6 623.6,233.4 624.0,111.5 624.8,234.5 625.8,137.1 626.6,208.9 627.6,73.0 628.3,256.1 628.4,97.6 629.1,216.9 630.2,115.7 630.9,274.2 631.3,76.6 632.0,269.4 633.5,90.4 634.3,258.0 635.0,106.9 635.7,238.7 635.8,133.0 636.6,203.5 637.9,124.5 638.7,221.5 639.4,128.8 640.1,272.0 640.4,124.2 641.1,242.4 642.2,120.6 643.0,228.3 643.9,129.9 644.6,272.8 645.1,118.7 645.8,227.3 646.7,121.9 647.5,274.2 648.7,93.0 649.4,236.4 649.9,84.1 650.6,247.1 651.2,122.7 652.0,239.1 652.3,83.6 653.1,262.4 653.9,134.7 654.6,211.3 656.1,112.1 656.8,233.9 657.5,94.5 658.2,251.5 659.0,136.8 659.8,209.2 660.3,83.6 661.1,239.1 661.8,108.7 662.6,240.4 663.3,78.6 664.0,215.0 665.0,141.1 665.7,251.8 666.1,113.8 666.8,232.2 667.7,128.0 668.5,218.0 669.2,95.3 670.0,222.8 670.9,90.8 671.6,267.9 672.0,123.1 672.7,228.6 673.3,120.5 674.1,225.5 674.9,141.7 675.6,267.5 676.5,110.3 677.2,235.7 678.6,110.2 679.3,228.6 679.9,126.3 680.7,237.0 681.5,135.1 682.2,237.7 682.7,108.3 683.5,237.7 683.9,127.4 684.7,241.8 685.7,101.5 686.5,244.5 687.6,123.1 688.3,255.3 688.8,134.5 689.5,216.4 690.4,89.2 691.1,198.5 691.7,133.8 692.4,196.0 693.0,81.2 693.7,203.1 694.9,148.1 695.6,207.6 696.3,122.8 697.0,240.8 697.6,120.1 698.4,225.9 699.1,134.7 699.8,238.2 700.9,126.0 701.7,203.7 702.1,135.5 702.9,203.1 703.8,96.4 704.6,215.2 705.1,128.3 705.8,217.7 707.0,128.3 707.8,217.7 708.2,146.9 708.9,219.2 709.8,89.7 710.5,230.5 711.7,124.2 712.4,242.8 713.0,132.3 713.7,242.2 714.5,129.0 715.2,205.9 715.6,96.8 716.4,199.4 717.6,130.4 718.3,241.3 718.7,111.0 719.4,235.0 720.7,108.7 721.5,232.6 722.1,143.2 722.9,202.8 723.4,108.1 724.2,238.6 725.1,122.8 725.8,223.2 726.3,136.1 727.1,209.9 728.0,133.9 728.8,224.9 729.0,126.7 729.7,238.6 731.2,138.3 732.0,214.5 732.6,122.6 733.3,223.4 733.5,129.9 734.2,216.1 735.1,139.4 735.8,223.1 736.9,132.7 737.6,201.7 738.5,131.0 739.3,235.3 739.5,119.9 740.2,211.5 741.7,127.1 742.5,218.9 742.7,119.3 743.4,202.5 744.8,135.5 745.5,226.9 746.0,118.3 746.8,221.5 747.3,122.6 748.0,223.4 748.7,136.0 749.4,210.0 749.9,124.3 750.7,250.0 751.4,115.9 752.2,244.9 753.4,139.5 754.2,206.5 755.1,118.2 755.8,260.6 756.7,140.4 757.4,232.4 757.7,137.3 758.4,208.7 759.7,121.5 760.5,264.8 760.6,133.8 761.4,242.6 762.7,86.5 763.5,238.3 764.2,118.6 765.0,251.3 765.0,141.3 765.8,223.3 767.2,127.8 767.9,218.2 768.5,78.1 769.3,267.9 770.0,131.3 770.8,248.9 771.6,131.5 772.4,208.0 772.9,126.7 773.6,208.7 774.3,118.2 775.1,220.8 775.7,102.1 776.5,248.4 777.7,109.6 778.4,222.7 779.2,109.2 779.9,218.8 780.0,117.2 780.8,229.0 782.1,152.9 782.8,193.1 783.1,112.6 783.9,231.2 784.6,117.8 785.3,228.2 786.1,113.6 786.8,232.4 787.9,124.5 788.7,221.5 789.1,145.1 789.9,212.4 790.6,140.6 791.4,205.4 792.0,113.6 792.7,240.1 793.7,106.5 794.4,195.5 795.6,140.2 796.3,215.0 796.4,119.7 797.2,226.3 798.3,129.2 799.1,230.6 799.9,87.7 800.7,212.1 800.9,138.9 801.7,207.1 802.7,109.2 803.4,236.8 804.7,119.4 805.5,226.6 806.3,100.5 807.1,225.5 807.7,115.6 808.4,230.4 808.6,136.8 809.3,227.6 810.6,136.9 811.3,227.5 811.8,119.2 812.6,237.8 813.1,134.0 813.8,203.0 814.8,118.8 815.6,235.2 816.7,114.5 817.5,231.5 818.2,123.6 819.0,229.3 819.3,103.5 820.0,201.2 820.5,111.9 821.2,200.1 822.7,132.0 823.5,214.0 824.3,135.5 825.1,193.9 825.4,88.8 826.1,218.1 826.6,134.2 827.4,211.8 828.4,138.7 829.2,222.5 830.1,121.4 830.8,257.0 831.4,91.3 832.1,219.3 832.7,133.1 833.5,212.9 834.2,111.6 834.9,234.4 835.7,132.0 836.4,230.3 837.0,120.0 837.7,215.5 838.7,132.4 839.4,205.2 840.8,114.3 841.5,231.7 841.4,126.0 842.2,227.2 843.6,128.5 844.3,217.5 845.1,133.0 845.9,213.0 846.3,111.2 847.1,224.7 848.0,149.9 848.7,196.1 849.1,116.5 849.9,242.5 851.0,117.4 851.8,202.4 852.6,114.3 853.3,231.7 854.1,96.0 854.9,229.5 855.4,123.1 856.1,207.1 857.3,138.5 858.1,207.5 858.7,135.7 859.5,201.2 860.0,109.6 860.7,248.0 861.6,104.4 862.3,241.6 862.7,117.5 863.5,208.7 864.8,138.1 865.6,222.1 866.0,125.3 866.8,241.3 867.8,146.1 868.5,219.8 868.7,132.2 869.5,213.8 870.8,130.4 871.6,215.6 871.6,136.8 872.3,210.3 873.4,135.7 874.2,204.8 874.6,115.9 875.3,255.9 876.1,110.2 876.9,218.1 878.2,120.2 878.9,195.5 879.0,122.4 879.8,223.6 880.8,99.3 881.6,246.7 882.1,119.9 882.9,226.1 884.2,129.6 885.0,204.6 885.0,99.6 885.8,246.4 886.8,100.2 887.5,245.8 888.7,103.9 889.5,208.9 890.1,112.3 890.8,204.4 891.6,148.3 892.4,197.7 893.4,84.8 894.1,211.9 894.0,106.0 894.8,240.0 896.1,104.6 896.8,233.8 897.7,123.4 898.4,222.6 899.2,81.5 899.9,217.5 900.6,122.0 901.4,224.0 901.6,103.1 902.3,200.4 903.1,110.9 903.8,266.5 905.2,137.1 905.9,208.9 906.5,103.9 907.3,242.1 907.7,128.2 908.5,208.0 909.0,117.7 909.8,221.2 911.0,118.0 911.7,223.2 912.1,137.4 912.8,211.5 914.2,100.0 914.9,216.8 915.3,143.8 916.1,236.2 917.2,141.5 918.0,255.5 918.1,129.2 918.8,226.9 919.9,84.9 920.7,206.0 921.1,127.6 921.8,218.4 923.2,64.2 924.0,222.3 924.5,131.9 925.3,214.1 925.7,98.0 926.5,248.0 927.9,143.3 928.6,225.6 929.1,137.3 929.9,208.7 930.3,87.1 931.1,258.9 932.3,103.4 933.0,241.0 933.4,75.7 934.1,236.8 935.4,133.1 936.1,212.9 936.3,138.9 937.0,209.3 938.4,147.5 939.2,220.6 939.1,120.1 939.8,233.8 941.2,122.9 941.9,214.5 942.3,123.4 943.0,233.4 943.9,117.3 944.7,202.9 945.6,141.8 946.3,247.1 946.6,119.1 947.3,259.7 948.2,102.4 949.0,243.6" fill="none" stroke="#0072BD" stroke-width="0.80" stroke-linejoin="bevel"/>
<text x="92.4" y="336.5" font-size="33.3" text-anchor="middle">0</text><text x="199.6" y="336.5" font-size="33.3" text-anchor="middle">1</text><text x="306.7" y="336.5" font-size="33.3" text-anchor="middle">2</text><text x="413.9" y="336.5" font-size="33.3" text-anchor="middle">3</text><text x="521.0" y="336.5" font-size="33.3" text-anchor="middle">4</text><text x="628.1" y="336.5" font-size="33.3" text-anchor="middle">5</text><text x="735.3" y="336.5" font-size="33.3" text-anchor="middle">6</text><text x="842.5" y="336.5" font-size="33.3" text-anchor="middle">7</text><text x="949.6" y="336.5" font-size="33.3" text-anchor="middle">8</text>
<text x="84.2" y="58.4" font-size="33.3" text-anchor="end">2</text><text x="84.2" y="184.9" font-size="33.3" text-anchor="end">0</text><text x="84.2" y="311.4" font-size="33.3" text-anchor="end">-2</text>
<text x="94.5" y="44.3" font-size="37.5" style="font-weight:normal">×</text><text x="115.9" y="39.6" font-size="33.3">10</text><text x="155.2" y="24" font-size="23.5">-3</text>
<text class="k" x="520.6" y="36.1" font-size="36.7" text-anchor="middle">Waveform recorded by resonant mic.</text>
<text x="522.3" y="355.6" font-size="36.7" text-anchor="middle">Time (sec)</text>
<text transform="translate(47.3,172.1) rotate(-90)" font-size="32.4" text-anchor="middle">Lung Sound Wave (V)</text>
<defs>
<filter id="fb" x="-20%" y="-20%" width="140%" height="140%"><feGaussianBlur stdDeviation="3"/></filter>
<filter id="fb1" x="-20%" y="-20%" width="140%" height="140%"><feGaussianBlur stdDeviation="0.9"/></filter>
<linearGradient id="par" x1="0" y1="1" x2="0" y2="0"><stop offset="0.0000" stop-color="#3e26a8"/><stop offset="0.0476" stop-color="#4332cb"/><stop offset="0.0952" stop-color="#4741e5"/><stop offset="0.1429" stop-color="#4852f4"/><stop offset="0.1905" stop-color="#4563fd"/><stop offset="0.2381" stop-color="#3875fe"/><stop offset="0.2857" stop-color="#2e87f7"/><stop offset="0.3333" stop-color="#2797eb"/><stop offset="0.3810" stop-color="#20a5e3"/><stop offset="0.4286" stop-color="#12b1d6"/><stop offset="0.4762" stop-color="#02bac3"/><stop offset="0.5238" stop-color="#24c1ae"/><stop offset="0.5714" stop-color="#37c897"/><stop offset="0.6190" stop-color="#57cc7a"/><stop offset="0.6667" stop-color="#81cc59"/><stop offset="0.7143" stop-color="#abc739"/><stop offset="0.7619" stop-color="#d1bf27"/><stop offset="0.8095" stop-color="#f0ba36"/><stop offset="0.8571" stop-color="#fec338"/><stop offset="0.9048" stop-color="#fad62d"/><stop offset="0.9524" stop-color="#f5e924"/><stop offset="1.0000" stop-color="#f9fb15"/></linearGradient>
<linearGradient id="bg" gradientUnits="userSpaceOnUse" x1="0" y1="397.6" x2="0" y2="650.3"><stop offset="0.000" stop-color="#252525"/><stop offset="0.180" stop-color="#262626"/><stop offset="0.190" stop-color="#333333"/><stop offset="0.200" stop-color="#333333"/><stop offset="0.208" stop-color="#2a2a2a"/><stop offset="0.217" stop-color="#3c3c3c"/><stop offset="0.226" stop-color="#3c3c3c"/><stop offset="0.236" stop-color="#2d2d2d"/><stop offset="0.330" stop-color="#2f2f2f"/><stop offset="0.410" stop-color="#343434"/><stop offset="0.440" stop-color="#404040"/><stop offset="0.470" stop-color="#4f4f4f"/><stop offset="0.500" stop-color="#555555"/><stop offset="0.550" stop-color="#4f4f4f"/><stop offset="0.580" stop-color="#444444"/><stop offset="0.670" stop-color="#424242"/><stop offset="0.700" stop-color="#4e4e4e"/><stop offset="0.740" stop-color="#4e4e4e"/><stop offset="0.760" stop-color="#474747"/><stop offset="0.795" stop-color="#4c4c4c"/><stop offset="0.810" stop-color="#636363"/><stop offset="0.845" stop-color="#6b6b6b"/><stop offset="0.865" stop-color="#787878"/><stop offset="0.900" stop-color="#808080"/><stop offset="0.950" stop-color="#808080"/><stop offset="0.972" stop-color="#707070"/><stop offset="1.000" stop-color="#696969"/></linearGradient>
<filter id="sp0" x="0" y="0" width="100%" height="100%" color-interpolation-filters="sRGB">
<feTurbulence type="fractalNoise" baseFrequency="0.16 0.23" numOctaves="2" seed="3"/>
<feColorMatrix type="matrix" values="0.567 0.567 0.567 0 -0.35 0.567 0.567 0.567 0 -0.35 0.567 0.567 0.567 0 -0.35 0 0 0 0 1"/>
<feComponentTransfer result="g"><feFuncR type="table" tableValues="0.180 0.212 0.244 0.276 0.308 0.348 0.384 0.416 0.444 0.468 0.487 0.504 0.518 0.531 0.542 0.550 0.556 0.561 0.564 0.566 0.568"/><feFuncG type="table" tableValues="0.180 0.212 0.244 0.276 0.308 0.348 0.384 0.416 0.444 0.468 0.487 0.504 0.518 0.531 0.542 0.550 0.556 0.561 0.564 0.566 0.568"/><feFuncB type="table" tableValues="0.180 0.212 0.244 0.276 0.308 0.348 0.384 0.416 0.444 0.468 0.487 0.504 0.518 0.531 0.542 0.550 0.556 0.561 0.564 0.566 0.568"/></feComponentTransfer>
<feComposite in="SourceGraphic" in2="g" operator="arithmetic" k1="0" k2="1" k3="1.000" k4="-0.500"/>
<feComponentTransfer><feFuncR type="table" tableValues="0.242 0.250 0.258 0.265 0.271 0.275 0.278 0.280 0.281 0.281 0.280 0.276 0.270 0.260 0.244 0.221 0.196 0.183 0.179 0.176 0.169 0.154 0.146 0.138 0.125 0.111 0.095 0.069 0.030 0.004 0.007 0.043 0.096 0.141 0.172 0.194 0.216 0.247 0.291 0.341 0.391 0.446 0.504 0.562 0.617 0.672 0.724 0.774 0.820 0.863 0.903 0.939 0.973 0.996 0.997 0.995 0.989 0.979 0.968 0.961 0.960 0.963 0.969 0.977"/><feFuncG type="table" tableValues="0.150 0.165 0.182 0.198 0.215 0.234 0.256 0.278 0.301 0.323 0.345 0.367 0.389 0.412 0.436 0.460 0.485 0.507 0.529 0.550 0.570 0.590 0.609 0.628 0.646 0.663 0.680 0.695 0.708 0.720 0.731 0.741 0.750 0.758 0.767 0.776 0.784 0.792 0.797 0.801 0.803 0.802 0.799 0.794 0.788 0.779 0.770 0.760 0.750 0.741 0.733 0.729 0.730 0.743 0.766 0.789 0.814 0.839 0.864 0.889 0.913 0.937 0.961 0.984"/><feFuncB type="table" tableValues="0.660 0.708 0.751 0.795 0.836 0.871 0.899 0.922 0.941 0.958 0.972 0.983 0.991 0.995 0.999 0.997 0.989 0.980 0.968 0.952 0.936 0.922 0.908 0.897 0.888 0.876 0.860 0.839 0.816 0.792 0.766 0.739 0.712 0.684 0.655 0.625 0.592 0.557 0.519 0.479 0.435 0.391 0.348 0.304 0.261 0.223 0.191 0.165 0.153 0.160 0.177 0.210 0.239 0.237 0.220 0.203 0.189 0.177 0.164 0.154 0.142 0.127 0.106 0.081"/><feFuncA type="linear" slope="0" intercept="1"/></feComponentTransfer>
<feGaussianBlur stdDeviation="0.55"/>
</filter>
<filter id="sp1" x="0" y="0" width="100%" height="100%" color-interpolation-filters="sRGB">
<feTurbulence type="fractalNoise" baseFrequency="0.16 0.23" numOctaves="2" seed="3"/>
<feColorMatrix type="matrix" values="0.567 0.567 0.567 0 -0.35 0.567 0.567 0.567 0 -0.35 0.567 0.567 0.567 0 -0.35 0 0 0 0 1"/>
<feComponentTransfer result="g"><feFuncR type="table" tableValues="0.252 0.277 0.302 0.326 0.351 0.382 0.410 0.435 0.457 0.475 0.490 0.503 0.514 0.524 0.532 0.538 0.543 0.547 0.550 0.551 0.553"/><feFuncG type="table" tableValues="0.252 0.277 0.302 0.326 0.351 0.382 0.410 0.435 0.457 0.475 0.490 0.503 0.514 0.524 0.532 0.538 0.543 0.547 0.550 0.551 0.553"/><feFuncB type="table" tableValues="0.252 0.277 0.302 0.326 0.351 0.382 0.410 0.435 0.457 0.475 0.490 0.503 0.514 0.524 0.532 0.538 0.543 0.547 0.550 0.551 0.553"/></feComponentTransfer>
<feComposite in="SourceGraphic" in2="g" operator="arithmetic" k1="0" k2="1" k3="1.000" k4="-0.500"/>
<feComponentTransfer><feFuncR type="table" tableValues="0.242 0.250 0.258 0.265 0.271 0.275 0.278 0.280 0.281 0.281 0.280 0.276 0.270 0.260 0.244 0.221 0.196 0.183 0.179 0.176 0.169 0.154 0.146 0.138 0.125 0.111 0.095 0.069 0.030 0.004 0.007 0.043 0.096 0.141 0.172 0.194 0.216 0.247 0.291 0.341 0.391 0.446 0.504 0.562 0.617 0.672 0.724 0.774 0.820 0.863 0.903 0.939 0.973 0.996 0.997 0.995 0.989 0.979 0.968 0.961 0.960 0.963 0.969 0.977"/><feFuncG type="table" tableValues="0.150 0.165 0.182 0.198 0.215 0.234 0.256 0.278 0.301 0.323 0.345 0.367 0.389 0.412 0.436 0.460 0.485 0.507 0.529 0.550 0.570 0.590 0.609 0.628 0.646 0.663 0.680 0.695 0.708 0.720 0.731 0.741 0.750 0.758 0.767 0.776 0.784 0.792 0.797 0.801 0.803 0.802 0.799 0.794 0.788 0.779 0.770 0.760 0.750 0.741 0.733 0.729 0.730 0.743 0.766 0.789 0.814 0.839 0.864 0.889 0.913 0.937 0.961 0.984"/><feFuncB type="table" tableValues="0.660 0.708 0.751 0.795 0.836 0.871 0.899 0.922 0.941 0.958 0.972 0.983 0.991 0.995 0.999 0.997 0.989 0.980 0.968 0.952 0.936 0.922 0.908 0.897 0.888 0.876 0.860 0.839 0.816 0.792 0.766 0.739 0.712 0.684 0.655 0.625 0.592 0.557 0.519 0.479 0.435 0.391 0.348 0.304 0.261 0.223 0.191 0.165 0.153 0.160 0.177 0.210 0.239 0.237 0.220 0.203 0.189 0.177 0.164 0.154 0.142 0.127 0.106 0.081"/><feFuncA type="linear" slope="0" intercept="1"/></feComponentTransfer>
<feGaussianBlur stdDeviation="0.55"/>
</filter>
<filter id="sp2" x="0" y="0" width="100%" height="100%" color-interpolation-filters="sRGB">
<feTurbulence type="fractalNoise" baseFrequency="0.16 0.23" numOctaves="2" seed="3"/>
<feColorMatrix type="matrix" values="0.567 0.567 0.567 0 -0.35 0.567 0.567 0.567 0 -0.35 0.567 0.567 0.567 0 -0.35 0 0 0 0 1"/>
<feComponentTransfer result="g"><feFuncR type="table" tableValues="0.320 0.338 0.356 0.374 0.392 0.410 0.428 0.446 0.464 0.482 0.500 0.517 0.531 0.543 0.553 0.560 0.566 0.571 0.574 0.577 0.578"/><feFuncG type="table" tableValues="0.320 0.338 0.356 0.374 0.392 0.410 0.428 0.446 0.464 0.482 0.500 0.517 0.531 0.543 0.553 0.560 0.566 0.571 0.574 0.577 0.578"/><feFuncB type="table" tableValues="0.320 0.338 0.356 0.374 0.392 0.410 0.428 0.446 0.464 0.482 0.500 0.517 0.531 0.543 0.553 0.560 0.566 0.571 0.574 0.577 0.578"/></feComponentTransfer>
<feComposite in="SourceGraphic" in2="g" operator="arithmetic" k1="0" k2="1" k3="1.000" k4="-0.500"/>
<feComponentTransfer><feFuncR type="table" tableValues="0.242 0.250 0.258 0.265 0.271 0.275 0.278 0.280 0.281 0.281 0.280 0.276 0.270 0.260 0.244 0.221 0.196 0.183 0.179 0.176 0.169 0.154 0.146 0.138 0.125 0.111 0.095 0.069 0.030 0.004 0.007 0.043 0.096 0.141 0.172 0.194 0.216 0.247 0.291 0.341 0.391 0.446 0.504 0.562 0.617 0.672 0.724 0.774 0.820 0.863 0.903 0.939 0.973 0.996 0.997 0.995 0.989 0.979 0.968 0.961 0.960 0.963 0.969 0.977"/><feFuncG type="table" tableValues="0.150 0.165 0.182 0.198 0.215 0.234 0.256 0.278 0.301 0.323 0.345 0.367 0.389 0.412 0.436 0.460 0.485 0.507 0.529 0.550 0.570 0.590 0.609 0.628 0.646 0.663 0.680 0.695 0.708 0.720 0.731 0.741 0.750 0.758 0.767 0.776 0.784 0.792 0.797 0.801 0.803 0.802 0.799 0.794 0.788 0.779 0.770 0.760 0.750 0.741 0.733 0.729 0.730 0.743 0.766 0.789 0.814 0.839 0.864 0.889 0.913 0.937 0.961 0.984"/><feFuncB type="table" tableValues="0.660 0.708 0.751 0.795 0.836 0.871 0.899 0.922 0.941 0.958 0.972 0.983 0.991 0.995 0.999 0.997 0.989 0.980 0.968 0.952 0.936 0.922 0.908 0.897 0.888 0.876 0.860 0.839 0.816 0.792 0.766 0.739 0.712 0.684 0.655 0.625 0.592 0.557 0.519 0.479 0.435 0.391 0.348 0.304 0.261 0.223 0.191 0.165 0.153 0.160 0.177 0.210 0.239 0.237 0.220 0.203 0.189 0.177 0.164 0.154 0.142 0.127 0.106 0.081"/><feFuncA type="linear" slope="0" intercept="1"/></feComponentTransfer>
<feGaussianBlur stdDeviation="0.55"/>
</filter>
<filter id="sp3" x="0" y="0" width="100%" height="100%" color-interpolation-filters="sRGB">
<feTurbulence type="fractalNoise" baseFrequency="0.17 0.25" numOctaves="2" seed="11"/>
<feColorMatrix type="matrix" values="0.567 0.567 0.567 0 -0.35 0.567 0.567 0.567 0 -0.35 0.567 0.567 0.567 0 -0.35 0 0 0 0 1"/>
<feComponentTransfer result="g"><feFuncR type="table" tableValues="0.475 0.475 0.475 0.475 0.475 0.475 0.475 0.476 0.481 0.491 0.506 0.531 0.556 0.578 0.593 0.605 0.612 0.618 0.621 0.624 0.624"/><feFuncG type="table" tableValues="0.475 0.475 0.475 0.475 0.475 0.475 0.475 0.476 0.481 0.491 0.506 0.531 0.556 0.578 0.593 0.605 0.612 0.618 0.621 0.624 0.624"/><feFuncB type="table" tableValues="0.475 0.475 0.475 0.475 0.475 0.475 0.475 0.476 0.481 0.491 0.506 0.531 0.556 0.578 0.593 0.605 0.612 0.618 0.621 0.624 0.624"/></feComponentTransfer>
<feComposite in="SourceGraphic" in2="g" operator="arithmetic" k1="0" k2="1" k3="1.000" k4="-0.500"/>
<feComponentTransfer><feFuncR type="table" tableValues="0.242 0.250 0.258 0.265 0.271 0.275 0.278 0.280 0.281 0.281 0.280 0.276 0.270 0.260 0.244 0.221 0.196 0.183 0.179 0.176 0.169 0.154 0.146 0.138 0.125 0.111 0.095 0.069 0.030 0.004 0.007 0.043 0.096 0.141 0.172 0.194 0.216 0.247 0.291 0.341 0.391 0.446 0.504 0.562 0.617 0.672 0.724 0.774 0.820 0.863 0.903 0.939 0.973 0.996 0.997 0.995 0.989 0.979 0.968 0.961 0.960 0.963 0.969 0.977"/><feFuncG type="table" tableValues="0.150 0.165 0.182 0.198 0.215 0.234 0.256 0.278 0.301 0.323 0.345 0.367 0.389 0.412 0.436 0.460 0.485 0.507 0.529 0.550 0.570 0.590 0.609 0.628 0.646 0.663 0.680 0.695 0.708 0.720 0.731 0.741 0.750 0.758 0.767 0.776 0.784 0.792 0.797 0.801 0.803 0.802 0.799 0.794 0.788 0.779 0.770 0.760 0.750 0.741 0.733 0.729 0.730 0.743 0.766 0.789 0.814 0.839 0.864 0.889 0.913 0.937 0.961 0.984"/><feFuncB type="table" tableValues="0.660 0.708 0.751 0.795 0.836 0.871 0.899 0.922 0.941 0.958 0.972 0.983 0.991 0.995 0.999 0.997 0.989 0.980 0.968 0.952 0.936 0.922 0.908 0.897 0.888 0.876 0.860 0.839 0.816 0.792 0.766 0.739 0.712 0.684 0.655 0.625 0.592 0.557 0.519 0.479 0.435 0.391 0.348 0.304 0.261 0.223 0.191 0.165 0.153 0.160 0.177 0.210 0.239 0.237 0.220 0.203 0.189 0.177 0.164 0.154 0.142 0.127 0.106 0.081"/><feFuncA type="linear" slope="0" intercept="1"/></feComponentTransfer>
<feGaussianBlur stdDeviation="0.55"/>
</filter>
<filter id="sp4" x="0" y="0" width="100%" height="100%" color-interpolation-filters="sRGB">
<feTurbulence type="fractalNoise" baseFrequency="0.16 0.23" numOctaves="2" seed="3"/>
<feColorMatrix type="matrix" values="0.567 0.567 0.567 0 -0.35 0.567 0.567 0.567 0 -0.35 0.567 0.567 0.567 0 -0.35 0 0 0 0 1"/>
<feComponentTransfer result="g"><feFuncR type="table" tableValues="0.380 0.392 0.404 0.416 0.428 0.440 0.452 0.464 0.476 0.488 0.500 0.511 0.521 0.529 0.535 0.540 0.544 0.547 0.550 0.551 0.552"/><feFuncG type="table" tableValues="0.380 0.392 0.404 0.416 0.428 0.440 0.452 0.464 0.476 0.488 0.500 0.511 0.521 0.529 0.535 0.540 0.544 0.547 0.550 0.551 0.552"/><feFuncB type="table" tableValues="0.380 0.392 0.404 0.416 0.428 0.440 0.452 0.464 0.476 0.488 0.500 0.511 0.521 0.529 0.535 0.540 0.544 0.547 0.550 0.551 0.552"/></feComponentTransfer>
<feComposite in="SourceGraphic" in2="g" operator="arithmetic" k1="0" k2="1" k3="1.000" k4="-0.500"/>
<feComponentTransfer><feFuncR type="table" tableValues="0.242 0.250 0.258 0.265 0.271 0.275 0.278 0.280 0.281 0.281 0.280 0.276 0.270 0.260 0.244 0.221 0.196 0.183 0.179 0.176 0.169 0.154 0.146 0.138 0.125 0.111 0.095 0.069 0.030 0.004 0.007 0.043 0.096 0.141 0.172 0.194 0.216 0.247 0.291 0.341 0.391 0.446 0.504 0.562 0.617 0.672 0.724 0.774 0.820 0.863 0.903 0.939 0.973 0.996 0.997 0.995 0.989 0.979 0.968 0.961 0.960 0.963 0.969 0.977"/><feFuncG type="table" tableValues="0.150 0.165 0.182 0.198 0.215 0.234 0.256 0.278 0.301 0.323 0.345 0.367 0.389 0.412 0.436 0.460 0.485 0.507 0.529 0.550 0.570 0.590 0.609 0.628 0.646 0.663 0.680 0.695 0.708 0.720 0.731 0.741 0.750 0.758 0.767 0.776 0.784 0.792 0.797 0.801 0.803 0.802 0.799 0.794 0.788 0.779 0.770 0.760 0.750 0.741 0.733 0.729 0.730 0.743 0.766 0.789 0.814 0.839 0.864 0.889 0.913 0.937 0.961 0.984"/><feFuncB type="table" tableValues="0.660 0.708 0.751 0.795 0.836 0.871 0.899 0.922 0.941 0.958 0.972 0.983 0.991 0.995 0.999 0.997 0.989 0.980 0.968 0.952 0.936 0.922 0.908 0.897 0.888 0.876 0.860 0.839 0.816 0.792 0.766 0.739 0.712 0.684 0.655 0.625 0.592 0.557 0.519 0.479 0.435 0.391 0.348 0.304 0.261 0.223 0.191 0.165 0.153 0.160 0.177 0.210 0.239 0.237 0.220 0.203 0.189 0.177 0.164 0.154 0.142 0.127 0.106 0.081"/><feFuncA type="linear" slope="0" intercept="1"/></feComponentTransfer>
<feGaussianBlur stdDeviation="0.55"/>
</filter>
</defs>
<clipPath id="c0"><rect x="92.3" y="397.60" width="820.5" height="119.07"/></clipPath><g clip-path="url(#c0)"><g filter="url(#sp0)"><rect x="88.3" y="393.60" width="828.5" height="126.77" fill="url(#bg)"/><g fill="#fff" stroke="none" filter="url(#fb1)"><path d="M221,521.5C228,523 233,529 241,529C250,529 258,522.5 268,522.5C284,522.5 298,527 316,529.5" fill="none" stroke="#fff" stroke-width="4.4" stroke-linecap="round" opacity="0.25"/><rect x="224.3" y="458" width="3.6" height="40" opacity="0.23"/><path d="M228,498C231,508 235,516 240,524" fill="none" stroke="#fff" stroke-width="4" opacity="0.14"/><ellipse cx="655" cy="524" rx="13" ry="4" opacity="0.2"/><path d="M316,529C350,531 380,524 410,525S450,522 475,524" fill="none" stroke="#fff" stroke-width="5" opacity="0.08"/><path d="M560,526C590,520 615,528 640,524S685,528 705,525" fill="none" stroke="#fff" stroke-width="5" opacity="0.09"/></g><g fill="#fff" stroke="none" filter="url(#fb)"><ellipse cx="236" cy="492" rx="22" ry="26" opacity="0.08"/><ellipse cx="590" cy="483" rx="19" ry="36" opacity="0.08"/><ellipse cx="820" cy="462" rx="18" ry="13" opacity="0.06"/><ellipse cx="705" cy="470" rx="15" ry="22" opacity="0.05"/><ellipse cx="420" cy="520" rx="60" ry="7" opacity="0.05"/><rect x="88" y="610" width="50" height="36" fill="#000" opacity="0.07"/></g></g></g>
<clipPath id="c1"><rect x="92.3" y="516.37" width="820.5" height="83.69"/></clipPath><g clip-path="url(#c1)"><g filter="url(#sp1)"><rect x="88.3" y="512.37" width="828.5" height="91.39" fill="url(#bg)"/><g fill="#fff" stroke="none" filter="url(#fb1)"><path d="M221,521.5C228,523 233,529 241,529C250,529 258,522.5 268,522.5C284,522.5 298,527 316,529.5" fill="none" stroke="#fff" stroke-width="4.4" stroke-linecap="round" opacity="0.25"/><rect x="224.3" y="458" width="3.6" height="40" opacity="0.23"/><path d="M228,498C231,508 235,516 240,524" fill="none" stroke="#fff" stroke-width="4" opacity="0.14"/><ellipse cx="655" cy="524" rx="13" ry="4" opacity="0.2"/><path d="M316,529C350,531 380,524 410,525S450,522 475,524" fill="none" stroke="#fff" stroke-width="5" opacity="0.08"/><path d="M560,526C590,520 615,528 640,524S685,528 705,525" fill="none" stroke="#fff" stroke-width="5" opacity="0.09"/></g><g fill="#fff" stroke="none" filter="url(#fb)"><ellipse cx="236" cy="492" rx="22" ry="26" opacity="0.08"/><ellipse cx="590" cy="483" rx="19" ry="36" opacity="0.08"/><ellipse cx="820" cy="462" rx="18" ry="13" opacity="0.06"/><ellipse cx="705" cy="470" rx="15" ry="22" opacity="0.05"/><ellipse cx="420" cy="520" rx="60" ry="7" opacity="0.05"/><rect x="88" y="610" width="50" height="36" fill="#000" opacity="0.07"/></g></g></g>
<clipPath id="c2"><rect x="92.3" y="599.76" width="820.5" height="14.20"/></clipPath><g clip-path="url(#c2)"><g filter="url(#sp2)"><rect x="88.3" y="595.76" width="828.5" height="21.90" fill="url(#bg)"/><g fill="#fff" stroke="none" filter="url(#fb1)"><path d="M221,521.5C228,523 233,529 241,529C250,529 258,522.5 268,522.5C284,522.5 298,527 316,529.5" fill="none" stroke="#fff" stroke-width="4.4" stroke-linecap="round" opacity="0.25"/><rect x="224.3" y="458" width="3.6" height="40" opacity="0.23"/><path d="M228,498C231,508 235,516 240,524" fill="none" stroke="#fff" stroke-width="4" opacity="0.14"/><ellipse cx="655" cy="524" rx="13" ry="4" opacity="0.2"/><path d="M316,529C350,531 380,524 410,525S450,522 475,524" fill="none" stroke="#fff" stroke-width="5" opacity="0.08"/><path d="M560,526C590,520 615,528 640,524S685,528 705,525" fill="none" stroke="#fff" stroke-width="5" opacity="0.09"/></g><g fill="#fff" stroke="none" filter="url(#fb)"><ellipse cx="236" cy="492" rx="22" ry="26" opacity="0.08"/><ellipse cx="590" cy="483" rx="19" ry="36" opacity="0.08"/><ellipse cx="820" cy="462" rx="18" ry="13" opacity="0.06"/><ellipse cx="705" cy="470" rx="15" ry="22" opacity="0.05"/><ellipse cx="420" cy="520" rx="60" ry="7" opacity="0.05"/><rect x="88" y="610" width="50" height="36" fill="#000" opacity="0.07"/></g></g></g>
<clipPath id="c3"><rect x="92.3" y="613.66" width="820.5" height="28.86"/></clipPath><g clip-path="url(#c3)"><g filter="url(#sp3)"><rect x="88.3" y="609.66" width="828.5" height="36.56" fill="url(#bg)"/><g fill="#fff" stroke="none" filter="url(#fb1)"><path d="M221,521.5C228,523 233,529 241,529C250,529 258,522.5 268,522.5C284,522.5 298,527 316,529.5" fill="none" stroke="#fff" stroke-width="4.4" stroke-linecap="round" opacity="0.25"/><rect x="224.3" y="458" width="3.6" height="40" opacity="0.23"/><path d="M228,498C231,508 235,516 240,524" fill="none" stroke="#fff" stroke-width="4" opacity="0.14"/><ellipse cx="655" cy="524" rx="13" ry="4" opacity="0.2"/><path d="M316,529C350,531 380,524 410,525S450,522 475,524" fill="none" stroke="#fff" stroke-width="5" opacity="0.08"/><path d="M560,526C590,520 615,528 640,524S685,528 705,525" fill="none" stroke="#fff" stroke-width="5" opacity="0.09"/></g><g fill="#fff" stroke="none" filter="url(#fb)"><ellipse cx="236" cy="492" rx="22" ry="26" opacity="0.08"/><ellipse cx="590" cy="483" rx="19" ry="36" opacity="0.08"/><ellipse cx="820" cy="462" rx="18" ry="13" opacity="0.06"/><ellipse cx="705" cy="470" rx="15" ry="22" opacity="0.05"/><ellipse cx="420" cy="520" rx="60" ry="7" opacity="0.05"/><rect x="88" y="610" width="50" height="36" fill="#000" opacity="0.07"/></g></g></g>
<clipPath id="c4"><rect x="92.3" y="642.21" width="820.5" height="8.09"/></clipPath><g clip-path="url(#c4)"><g filter="url(#sp4)"><rect x="88.3" y="638.21" width="828.5" height="16.09" fill="url(#bg)"/><g fill="#fff" stroke="none" filter="url(#fb1)"><path d="M221,521.5C228,523 233,529 241,529C250,529 258,522.5 268,522.5C284,522.5 298,527 316,529.5" fill="none" stroke="#fff" stroke-width="4.4" stroke-linecap="round" opacity="0.25"/><rect x="224.3" y="458" width="3.6" height="40" opacity="0.23"/><path d="M228,498C231,508 235,516 240,524" fill="none" stroke="#fff" stroke-width="4" opacity="0.14"/><ellipse cx="655" cy="524" rx="13" ry="4" opacity="0.2"/><path d="M316,529C350,531 380,524 410,525S450,522 475,524" fill="none" stroke="#fff" stroke-width="5" opacity="0.08"/><path d="M560,526C590,520 615,528 640,524S685,528 705,525" fill="none" stroke="#fff" stroke-width="5" opacity="0.09"/></g><g fill="#fff" stroke="none" filter="url(#fb)"><ellipse cx="236" cy="492" rx="22" ry="26" opacity="0.08"/><ellipse cx="590" cy="483" rx="19" ry="36" opacity="0.08"/><ellipse cx="820" cy="462" rx="18" ry="13" opacity="0.06"/><ellipse cx="705" cy="470" rx="15" ry="22" opacity="0.05"/><ellipse cx="420" cy="520" rx="60" ry="7" opacity="0.05"/><rect x="88" y="610" width="50" height="36" fill="#000" opacity="0.07"/></g></g></g>
<path d="M188.6,650.3v-8M289.1,650.3v-8M389.7,650.3v-8M490.2,650.3v-8M590.8,650.3v-8M691.4,650.3v-8M791.9,650.3v-8M892.5,650.3v-8" stroke="#262626" stroke-width="1" fill="none" opacity="0.4"/>
<rect x="92.8" y="398.1" width="819.5" height="251.7" fill="none" stroke="#1a1a40" stroke-width="1" opacity="0.4"/>
<text x="188.6" y="688.2" font-size="33.3" text-anchor="middle">1</text><text x="289.1" y="688.2" font-size="33.3" text-anchor="middle">2</text><text x="389.7" y="688.2" font-size="33.3" text-anchor="middle">3</text><text x="490.2" y="688.2" font-size="33.3" text-anchor="middle">4</text><text x="590.8" y="688.2" font-size="33.3" text-anchor="middle">5</text><text x="691.4" y="688.2" font-size="33.3" text-anchor="middle">6</text><text x="791.9" y="688.2" font-size="33.3" text-anchor="middle">7</text><text x="892.5" y="688.2" font-size="33.3" text-anchor="middle">8</text>
<text x="83.2" y="409.5" font-size="33.3" text-anchor="end">1</text><text x="83.2" y="662.2" font-size="33.3" text-anchor="end">0</text><text transform="translate(83.7,535.4) scale(0.955,1)" font-size="33.3" text-anchor="end">0.5</text>
<text class="k" x="503" y="388.5" font-size="36.7" text-anchor="middle">Spectrogram with resonant mic.</text>
<text x="495" y="708.3" font-size="36.7" text-anchor="middle">Time (sec)</text>
<text transform="translate(31,523.8) rotate(-90)" font-size="35.1" text-anchor="middle">Frequency (kHz)</text>
<text class="r" x="98.5" y="630.4" font-size="36.5">(b)</text>
<text x="277.5" y="595.1" font-size="40" text-anchor="middle" style="fill:#ff1414">wheezing</text>
<path d="M275,567V541" stroke="#ff1414" stroke-width="3.2" fill="none"/><path d="M275,531.5l6.6,11.5h-13.2z" fill="#ff1414"/>
<rect x="919.2" y="397.6" width="13.6" height="252.7" fill="url(#par)" stroke="#262626" stroke-width="0.7" stroke-opacity="0.6"/>
<text x="940.3" y="406.0" font-size="23.4">-40</text><text x="940.3" y="456.5" font-size="23.4">-60</text><text x="940.3" y="507.1" font-size="23.4">-80</text><text x="940.3" y="557.6" font-size="23.4">-100</text><text x="940.3" y="608.2" font-size="23.4">-120</text><text x="940.3" y="658.7" font-size="23.4">-140</text>
<path d="M932.8,397.6h-2.5M932.8,448.1h-2.5M932.8,498.7h-2.5M932.8,549.2h-2.5M932.8,599.8h-2.5M932.8,650.3h-2.5" stroke="#262626" stroke-width="0.8" fill="none"/>
<text transform="translate(1014.6,522.1) rotate(-90)" font-size="25.4" text-anchor="middle">Power/frequency (dB/Hz)</text>
</svg>
</body></html>
